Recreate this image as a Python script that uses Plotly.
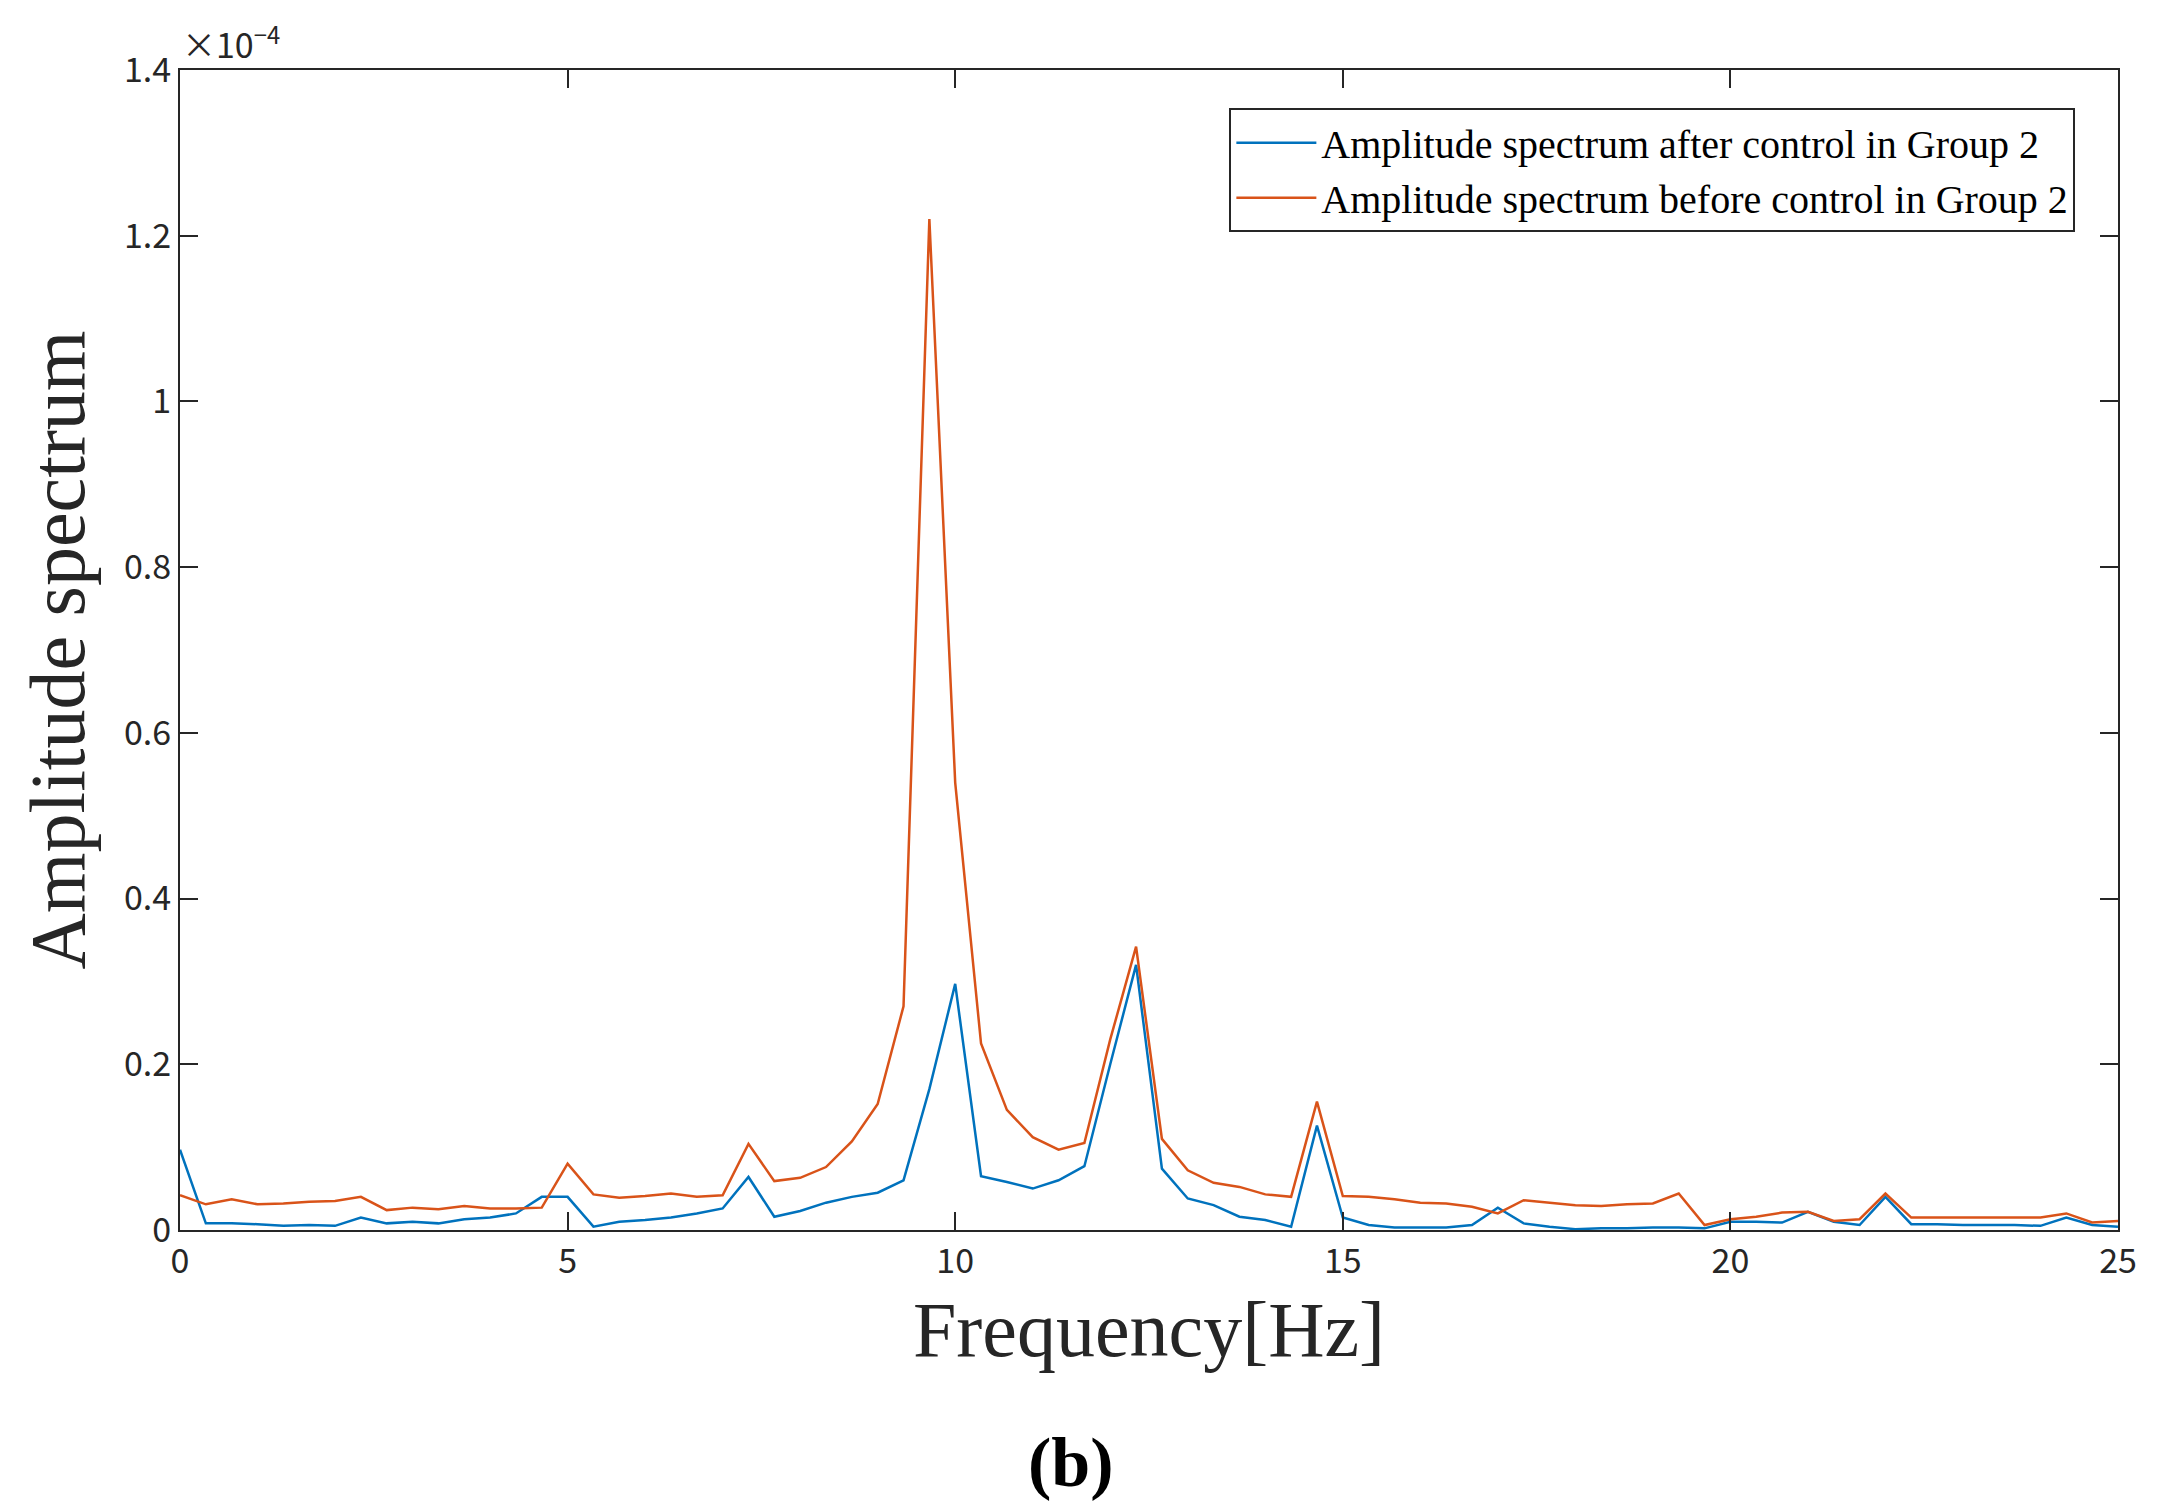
import plotly.graph_objects as go

# amplitude values in units of 1e-4, sampled every 1/3 Hz from 0 to 25 Hz
freq = [i / 3 for i in range(76)]

after_ctrl = [0.097, 0.008, 0.008, 0.007, 0.005, 0.006, 0.005, 0.015, 0.008, 0.010,
              0.008, 0.013, 0.015, 0.020, 0.040, 0.040, 0.004, 0.010, 0.012, 0.015,
              0.020, 0.026, 0.064, 0.016, 0.023, 0.033, 0.040, 0.045, 0.060, 0.170,
              0.297, 0.065, 0.058, 0.050, 0.060, 0.077, 0.200, 0.320, 0.074, 0.038,
              0.030, 0.016, 0.012, 0.004, 0.126, 0.015, 0.006, 0.003, 0.003, 0.003,
              0.006, 0.027, 0.008, 0.004, 0.001, 0.002, 0.002, 0.003, 0.003, 0.002,
              0.010, 0.010, 0.009, 0.022, 0.010, 0.006, 0.040, 0.007, 0.007, 0.006,
              0.006, 0.006, 0.005, 0.015, 0.006, 0.004]

before_ctrl = [0.042, 0.031, 0.037, 0.031, 0.032, 0.034, 0.035, 0.040, 0.024, 0.027,
               0.025, 0.029, 0.026, 0.026, 0.027, 0.080, 0.043, 0.039, 0.041, 0.044,
               0.040, 0.042, 0.104, 0.059, 0.063, 0.076, 0.107, 0.152, 0.270, 1.220,
               0.540, 0.225, 0.145, 0.112, 0.097, 0.105, 0.230, 0.342, 0.110, 0.072,
               0.057, 0.052, 0.043, 0.040, 0.155, 0.041, 0.040, 0.037, 0.033, 0.032,
               0.028, 0.020, 0.036, 0.033, 0.030, 0.029, 0.031, 0.032, 0.044, 0.006,
               0.013, 0.016, 0.021, 0.022, 0.011, 0.013, 0.044, 0.015, 0.015, 0.015,
               0.015, 0.015, 0.015, 0.020, 0.009, 0.011]

fig = go.Figure()
fig.add_trace(go.Scatter(x=freq, y=after_ctrl, mode='lines', line=dict(color='#0072BD', width=2.5),
                         name='Amplitude spectrum after control in Group 2'))
fig.add_trace(go.Scatter(x=freq, y=before_ctrl, mode='lines', line=dict(color='#D95319', width=2.5),
                         name='Amplitude spectrum before control in Group 2'))

axis_common = dict(showgrid=False, zeroline=False, showline=True, linecolor='#262626', linewidth=2,
                   mirror='ticks', ticks='inside', ticklen=18, tickwidth=2, tickcolor='#262626',
                   tickfont=dict(family='Noto Sans CJK JP', size=34, color='#262626'))

fig.update_layout(
    width=2160, height=1510,
    paper_bgcolor='white', plot_bgcolor='white',
    margin=dict(l=172, r=50, t=62, b=288),
    xaxis=dict(range=[0, 25], tickvals=[0, 5, 10, 15, 20, 25],
               title=dict(text='Frequency[Hz]', font=dict(family='Liberation Serif', size=78, color='#262626'),
                          standoff=20),
               **axis_common),
    yaxis=dict(range=[0, 1.4], tickvals=[0, 0.2, 0.4, 0.6, 0.8, 1, 1.2, 1.4],
               ticktext=['0', '0.2', '0.4', '0.6', '0.8', '1', '1.2', '1.4'],
               title=dict(text='Amplitude spectrum', font=dict(family='Liberation Serif', size=78, color='#262626'),
                          standoff=14),
               **axis_common),
    legend=dict(x=0.978, y=0.967, xanchor='right', yanchor='top', bgcolor='white',
                bordercolor='#262626', borderwidth=2, itemwidth=80,
                font=dict(family='Liberation Serif', size=40, color='black')),
    showlegend=True,
)

fig.add_annotation(xref='paper', yref='paper', x=0, y=1.0, xanchor='left', yanchor='bottom',
                   text='×10<sup>−4</sup>', showarrow=False,
                   font=dict(family='Noto Sans CJK JP', size=34, color='#262626'))
fig.add_annotation(xref='paper', yref='paper', x=0.46, y=-0.2, xanchor='center', yanchor='middle',
                   text='<b>(b)</b>', showarrow=False,
                   font=dict(family='Liberation Serif', size=70, color='black'))

fig.write_html("out.html")
